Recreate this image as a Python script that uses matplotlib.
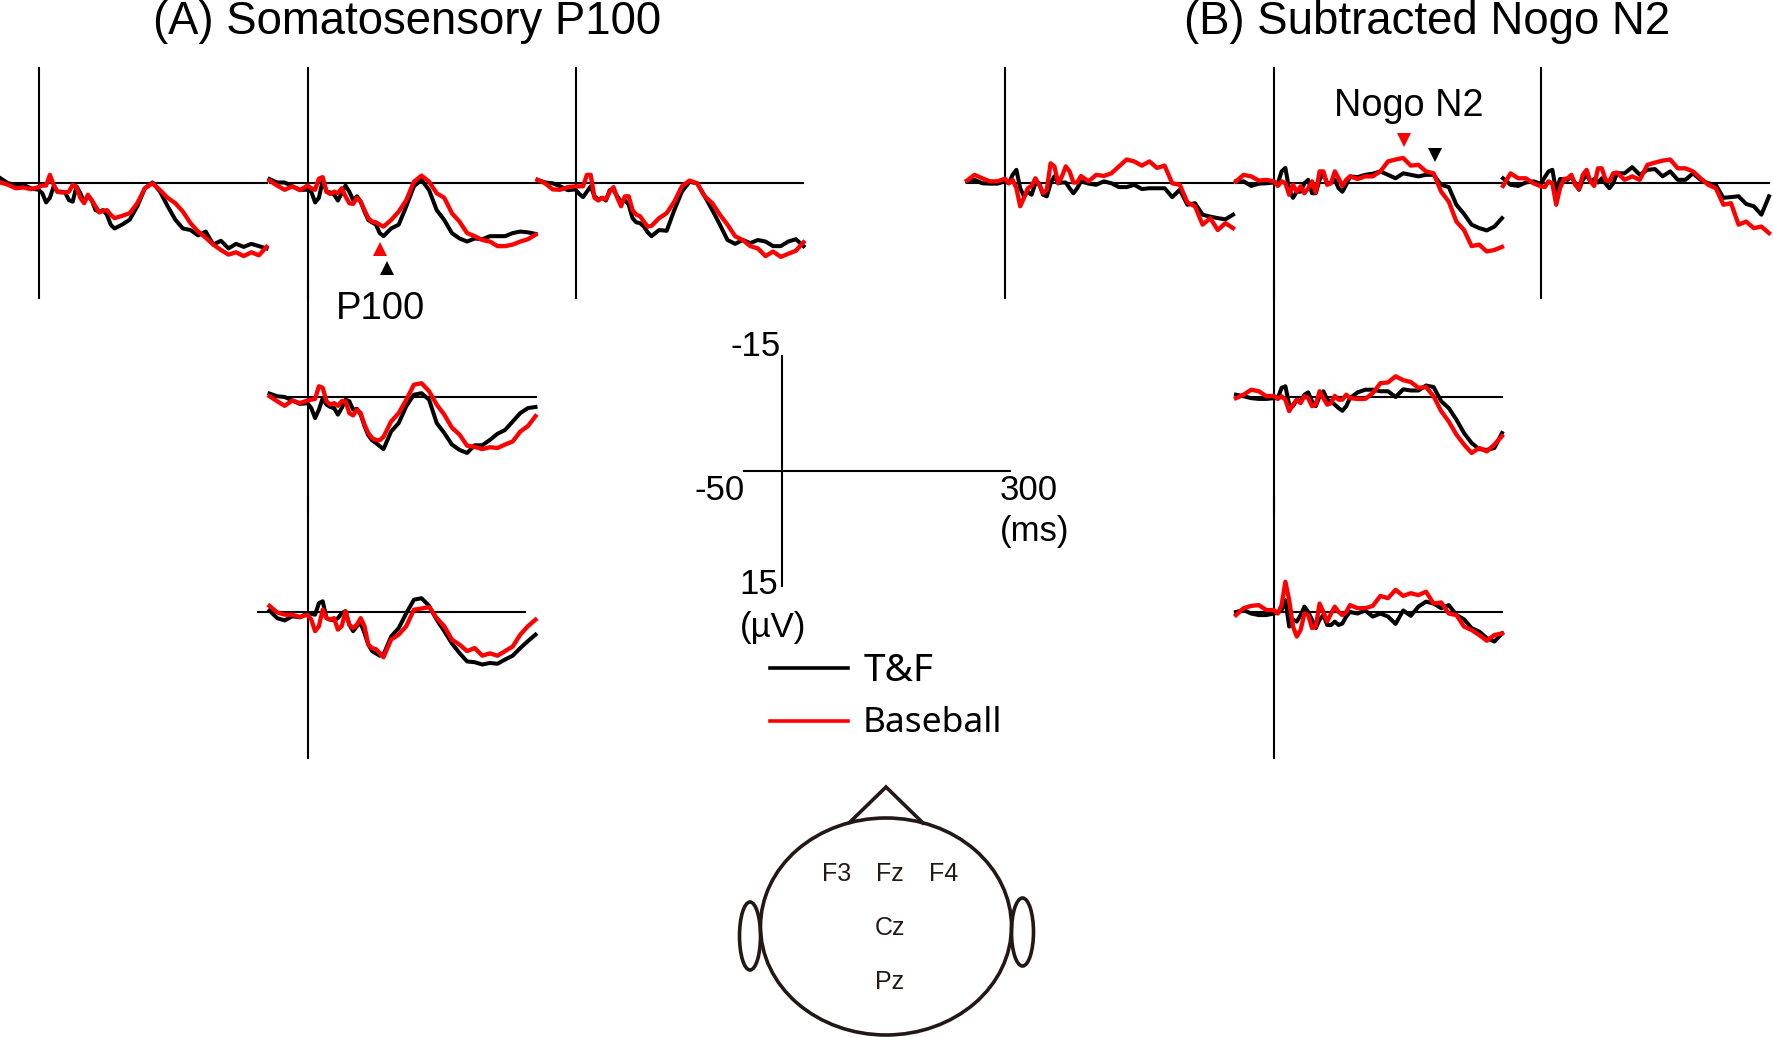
import numpy as np
import matplotlib
matplotlib.use("Agg")
import matplotlib.pyplot as plt
from matplotlib.patches import Ellipse

plt.rcParams['font.family'] = ['Liberation Sans', 'DejaVu Sans']

# sample times (ms), shared by all waveforms
times = [-50, -40, -30, -20, -10, 0,
         5, 10, 15, 20, 25, 30, 35, 40, 45, 50, 55, 60, 65, 70, 75, 80, 85, 90, 95, 100,
         110, 120, 130, 140, 150, 160, 170, 180, 190, 200, 210, 220, 230, 240, 250, 260, 270, 280, 290, 300]

# (A) Somatosensory P100, values in uV, negative is up
a_f3_tf = [-.55, .1, .3, .3, .75, .95,
           1.4, 2.6, 2.0, .5, 1.2, 1.2, 1.3, 2.3, 2.5, .5, 1.4, 2.5, 1.8, 2.3, 3.6, 3.8, 3.6, 4.2, 5.5, 6.0,
           5.5, 4.85, 3.1, .75, 0, 1.2, 3.1, 4.85, 6.0, 6.2, 6.9, 6.4, 8.1, 7.6, 8.6, 8.0, 8.4, 8.0, 8.3, 8.6]
a_f3_bb = [0, .3, .75, .65, .87, .6,
           .4, .4, -1.0, .3, 1.2, 1.3, 1.3, 1.2, .3, .6, 2.0, 2.7, 1.6, 2.3, 3.1, 3.9, 3.7, 3.6, 4.2, 4.65,
           4.35, 4.0, 2.7, .75, .1, 1.0, 2.0, 2.7, 3.8, 5.3, 6.4, 7.2, 8.1, 8.8, 9.4, 9.1, 9.6, 9.1, 9.5, 8.4]
a_fz_tf = [-.45, 0, 0, .5, .95, .95,
           1.2, 2.6, 2.0, -.3, 1.2, 1.3, 1.6, 2.35, 1.4, .4, 1.2, 2.3, 1.8, 2.5, 3.8, 4.9, 5.2, 5.5, 6.6, 7.0,
           6.0, 5.5, 3.1, .5, -.35, 1.0, 3.6, 4.9, 6.6, 7.3, 7.7, 7.3, 7.4, 7.0, 7.0, 7.0, 6.6, 6.4, 6.5, 6.7]
a_fz_bb = [-.25, .4, .95, .5, 1.0, .4,
           .75, .95, -.5, -.7, 1.2, 1.5, 1.2, 1.4, .75, 1.8, 2.7, 2.8, 2.0, 2.5, 3.6, 4.65, 5.1, 5.2, 5.5, 5.75,
           4.9, 3.8, 2.3, -.1, -.9, -.1, 1.4, 2.0, 4.0, 5.1, 6.6, 7.0, 7.5, 7.7, 8.3, 8.3, 8.1, 7.7, 7.4, 6.8]
a_f4_tf = [-.35, 0, .1, .5, 1.0, .9,
           1.5, 1.9, 1.2, .5, 1.8, 2.2, 2.0, 2.35, 1.0, 1.0, 1.8, 2.5, 2.3, 2.9, 4.65, 5.2, 5.3, 5.75, 6.5, 7.0,
           6.2, 6.3, 3.6, 1.2, -.1, .1, 1.8, 3.6, 5.5, 7.5, 8.0, 7.5, 7.9, 7.5, 7.7, 8.3, 8.3, 7.7, 7.4, 8.3]
a_f4_bb = [-.35, .1, .9, .95, .6, .5,
           .5, .5, -1.0, -1.0, 2.0, 2.35, 2.0, 2.2, 1.2, .6, 2.0, 3.1, 1.8, 1.8, 3.6, 4.2, 4.4, 5.1, 5.75, 5.65,
           4.65, 4.0, 2.5, .5, -.25, .1, 1.8, 2.7, 4.2, 5.5, 7.0, 7.5, 8.3, 8.6, 9.6, 9.0, 9.7, 9.3, 8.9, 7.8]
a_cz_tf = [-.45, -.1, 0, .45, .9, .8,
           1.45, 2.75, 1.65, .15, 1.0, 1.3, 1.45, 2.3, 1.45, .35, .55, 1.65, 1.55, 2.3, 3.8, 5.0, 5.65, 6.0, 6.4, 6.8,
           4.5, 3.4, 1.2, -.3, -.5, .35, 3.4, 4.7, 6.2, 6.9, 7.3, 6.3, 6.3, 5.6, 4.8, 4.3, 3.2, 2.1, 1.45, 1.3]
a_cz_bb = [-.1, .55, 1.15, .45, .8, .45,
           .35, .25, -1.4, -1.2, .55, 1.0, .8, 1.15, .55, .55, 2.1, 2.4, 1.65, 2.1, 3.6, 4.7, 5.35, 5.6, 5.65, 5.2,
           3.2, 2.1, .35, -1.6, -1.8, -.75, 1.0, 2.3, 4.0, 4.9, 6.35, 6.5, 6.8, 6.55, 6.65, 6.2, 5.8, 4.5, 3.8, 2.5]
a_pz_tf = [-.2, .8, 1.1, .55, .7, .15,
           .25, .35, -1.15, -1.4, .8, 1.0, 1.1, .8, .15, -.1, 1.65, 2.5, 1.85, 1.45, 2.75, 4.25, 5.1, 5.4, 5.7, 5.55,
           3.2, 2.1, .15, -1.6, -1.8, -.8, 1.0, 2.5, 4.1, 5.35, 6.45, 6.55, 6.85, 6.65, 6.75, 6.2, 5.7, 4.7, 3.8, 2.95]
a_pz_bb = [-.8, .05, .35, .35, .65, .35,
           1.0, 2.5, 1.85, -.3, .8, 1.0, .8, 2.3, 1.85, -.1, 1.65, 2.1, 1.65, .8, 1.85, 4.25, 4.7, 4.85, 5.35, 5.9,
           3.6, 2.95, 1.85, -.3, -.45, -.65, .8, 1.85, 3.6, 4.25, 5.1, 4.7, 5.7, 5.4, 5.7, 5.1, 4.5, 2.95, 1.85, 1.0]

# (B) Subtracted Nogo N2
b_f3_tf = [-.15, -.35, .1, .15, .15, -.15,
           .1, -1.0, -1.65, .75, 1.8, 1.2, 1.6, .1, .1, 1.6, 1.8, .1, -.8, .1, 0, 0, .75, 1.4, .75, -.15,
           .15, .3, -.15, .1, .6, .6, .3, .85, .75, .75, .75, 1.9, .95, 2.9, 2.7, 4.2, 4.45, 4.65, 4.8, 4.2]
b_f3_bb = [-.25, -1.0, -.55, -.15, -.15, -.5,
           .1, -.35, .75, 3.1, 2.0, .75, .45, -.55, .3, 1.4, .95, -2.5, -2.1, .1, -.8, -2.1, -1.45, 0, 0, -.85,
           -.15, -1.0, -.85, -1.2, -2.1, -3.0, -2.75, -2.2, -2.75, -1.9, -2.2, .1, .3, 2.6, 3.1, 5.5, 4.65, 6.2, 5.3, 5.95]
b_fz_tf = [-.15, -.15, .45, .15, .1, 0,
           .15, -1.45, -1.9, .95, 2.0, 1.2, 1.2, .1, -.35, 1.4, 1.4, -.35, -1.2, .1, 0, -.35, .75, 1.2, .3, -.8,
           -.7, -1.0, -1.15, -1.45, -1.0, -.55, -1.2, -1.0, -.8, -1.0, -1.0, .3, .6, 2.9, 4.1, 5.5, 5.95, 6.25, 5.75, 4.65]
b_fz_bb = [-.15, -1.0, -.8, -.25, -.35, -.15,
           .45, -.15, .1, 1.6, .3, 1.2, .5, 1.4, .75, -.15, 1.3, -1.45, -1.45, .3, .1, -1.45, -.55, .45, -.35, -.8,
           -.45, -.8, -.8, -1.45, -2.75, -3.0, -3.2, -2.2, -2.3, -1.45, -1.2, 1.2, 2.5, 5.1, 6.2, 8.3, 8.1, 9.0, 8.8, 8.4]
b_f4_tf = [-.55, .3, .45, 0, -.15, .15,
           -.7, -1.45, -1.65, 1.2, -.45, -.45, -.35, -.7, .1, .95, -.35, -1.0, -.15, -.45, 0, -.55, .15, .75, .1, -1.2,
           -1.2, -2.0, -1.0, -1.65, -1.75, -.8, -1.45, -.35, -.35, -1.2, -.35, .1, .3, 2.0, 1.9, 1.8, 2.8, 3.1, 4.2, 1.8]
b_f4_bb = [.45, -1.2, -.55, -.55, .1, .5,
           .6, -.15, .15, 2.9, .75, -.45, -.55, -1.0, .3, .85, -1.0, -1.65, -.15, .45, -1.85, -1.85, -.35, -.15, -1.2, -1.3,
           -.35, -.8, -.35, -2.3, -2.6, -2.85, -3.0, -1.85, -1.85, -1.45, -.55, .3, .75, 2.9, 2.7, 5.5, 5.1, 5.95, 5.75, 6.6]
b_cz_tf = [-.3, -.1, .15, .25, .25, .15,
           .15, -1.2, -1.4, 1.0, 1.2, .35, .55, -.3, -.6, .55, 1.2, -.1, -.75, .35, .55, 1.0, 1.45, 1.8, 1.2, .15,
           -.6, -.95, -.95, -.75, -.75, 0, -1.0, -.85, -.85, -1.5, -1.3, .55, 1.45, 2.95, 4.7, 6.0, 6.8, 6.9, 6.65, 4.7]
b_cz_bb = [.15, -.3, -.95, -.75, -.1, -.15,
           .25, -.1, .35, 1.85, 1.0, .35, .8, -.1, .15, 1.2, 1.0, -.75, .15, 1.0, .8, -.15, .35, .35, -.3, .15,
           .25, .25, -.5, -1.8, -1.9, -2.7, -2.2, -1.95, -1.2, -1.3, -.1, 1.85, 3.2, 4.9, 6.2, 7.3, 6.65, 7.1, 6.2, 5.1]
b_pz_tf = [0, -.25, .2, .4, .4, .2,
           .1, -.25, -1.55, 1.9, 1.0, 1.25, .4, -.7, 0, 1.0, 2.1, 1.0, .4, 1.7, 1.7, 1.25, 1.7, 1.5, .6, 0,
           .2, -.2, .6, .2, .6, 1.55, -.2, .5, -.7, -1.35, -1.1, -.5, -.9, .4, .95, 2.1, 2.55, 3.4, 3.85, 2.8]
b_pz_bb = [.4, -.5, -.8, -.9, -.25, -.25,
           .2, -.9, -3.95, -1.55, 1.9, 3.2, 2.35, .2, .4, 2.1, 1.9, -1.1, 0, 1.25, .2, -.7, 0, .4, 0, -.9,
           -.5, -.5, -.8, -2.1, -1.8, -2.9, -2.1, -2.45, -2.2, -2.65, -1.1, -1.25, .2, .4, 1.9, 2.35, 3.0, 3.75, 3.0, 2.8]

# peak markers (ms, uV)
p100_tf = (104, 11.2)
p100_bb = (95, 8.7)
n2_tf = (212, -3.65)
n2_bb = (171, -5.6)

electrodes = ["F3", "Fz", "F4", "Cz", "Pz"]
W, H = 1773, 1037
PX_MS = 266 / 350
PX_UV = 230 / 30
RED = "#ff0000"
HEAD = "#231815"

fig = plt.figure(figsize=(W / 100, H / 100), dpi=100)

# overlay in pixel coordinates for titles, legend and the head sketch
page = fig.add_axes([0, 0, 1, 1])
page.set_xlim(0, W)
page.set_ylim(H, 0)
page.axis("off")


def panel(x0, y0):
    """Axes in ms and uV with its zero crossing at pixel x0, y0"""
    left = x0 - 50 * PX_MS
    top = y0 - 15 * PX_UV
    ax = fig.add_axes([left / W, 1 - (top + 230) / H, 266 / W, 230 / H])
    ax.set_xlim(-50, 300)
    ax.set_ylim(15, -15)
    ax.axis("off")
    ax.patch.set_alpha(0)
    return ax


def draw_axes(ax, xspan=(-50, 300), ybottom=15):
    ax.plot(xspan, [0, 0], color="k", lw=1.5, clip_on=False)
    ax.plot([0, 0], [-15, ybottom], color="k", lw=1.5, clip_on=False)


def draw_wave(ax, tf, bb):
    ax.plot(times, tf, color="k", lw=2.9, clip_on=False, solid_joinstyle="round")
    ax.plot(times, bb, color=RED, lw=3.1, clip_on=False, solid_joinstyle="round")


a_spots = [(38.5, 182.5), (307.5, 182.5), (575.5, 182.5), (307.5, 397), (307.5, 612)]
b_spots = [(1005, 182.5), (1274, 182.5), (1541, 182.5), (1274, 397), (1274, 612)]
a_waves = [(a_f3_tf, a_f3_bb), (a_fz_tf, a_fz_bb), (a_f4_tf, a_f4_bb), (a_cz_tf, a_cz_bb), (a_pz_tf, a_pz_bb)]
b_waves = [(b_f3_tf, b_f3_bb), (b_fz_tf, b_fz_bb), (b_f4_tf, b_f4_bb), (b_cz_tf, b_cz_bb), (b_pz_tf, b_pz_bb)]

a_axes = {}
b_axes = {}
for name, spot, wave in zip(electrodes, a_spots, a_waves):
    ax = panel(*spot)
    if name == "Pz":
        draw_axes(ax, xspan=(-65, 286), ybottom=19)
    else:
        draw_axes(ax)
    draw_wave(ax, *wave)
    a_axes[name] = ax
for name, spot, wave in zip(electrodes, b_spots, b_waves):
    ax = panel(*spot)
    draw_axes(ax, ybottom=19 if name == "Pz" else 15)
    draw_wave(ax, *wave)
    b_axes[name] = ax

a_axes["Fz"].plot(*p100_bb, marker="^", ms=10, color=RED, mew=0, clip_on=False)
a_axes["Fz"].plot(*p100_tf, marker="^", ms=10, color="k", mew=0, clip_on=False)
b_axes["Fz"].plot(*n2_bb, marker="v", ms=10, color=RED, mew=0, clip_on=False)
b_axes["Fz"].plot(*n2_tf, marker="v", ms=10, color="k", mew=0, clip_on=False)

# calibration cross
cal = panel(782, 471)
draw_axes(cal)

# titles and labels
page.text(407, 22.5, "(A) Somatosensory P100", fontsize=32.8, ha="center", va="center")
page.text(1427, 22.5, "(B) Subtracted Nogo N2", fontsize=32.8, ha="center", va="center")
page.text(380.5, 309, "P100", fontsize=27.5, ha="center", va="center")
page.text(1409, 106.5, "Nogo N2", fontsize=27.3, ha="center", va="center")

page.text(781, 346, "-15", fontsize=25, ha="right", va="center")
page.text(745, 491, "-50", fontsize=25, ha="right", va="center")
page.text(1000, 491, "300", fontsize=25, ha="left", va="center")
page.text(1000, 532, "(ms)", fontsize=25, ha="left", va="center")
page.text(778, 585, "15", fontsize=25, ha="right", va="center")
page.text(740, 627, "(µV)", fontsize=25, ha="left", va="center")

# legend
page.plot([770, 848], [668, 668], color="k", lw=2.6)
page.plot([770, 848], [721, 721], color=RED, lw=2.6)
page.text(864, 671, "T&F", fontsize=28, family=["Noto Sans"], ha="left", va="center")
page.text(863, 723, "Baseball", fontsize=25.5, family=["Noto Sans"], ha="left", va="center")

# head sketch
page.add_patch(Ellipse((886, 926.5), 251, 217, fill=False, ec=HEAD, lw=2.6))
page.add_patch(Ellipse((750, 936), 21, 68, fill=False, ec=HEAD, lw=2.6))
page.add_patch(Ellipse((1022.5, 932), 22, 68, fill=False, ec=HEAD, lw=2.6))
page.plot([850, 886, 923], [822, 787, 823], color=HEAD, lw=2.6, solid_joinstyle="miter")
for label, lx, ly in zip(electrodes, [836.5, 890, 944, 890, 890], [874, 874, 874, 928, 982]):
    page.text(lx, ly, label, fontsize=18, color=HEAD, ha="center", va="center")

fig.savefig("out.png", dpi=100)
